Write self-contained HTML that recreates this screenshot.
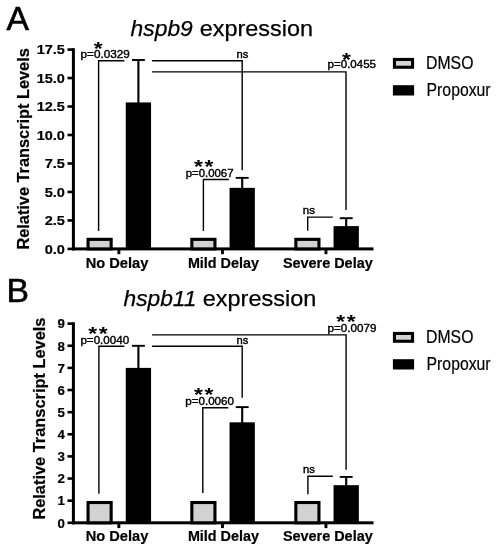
<!DOCTYPE html>
<html><head><meta charset="utf-8"><title>hspb expression</title>
<style>
html,body{margin:0;padding:0;background:#fff;}
svg{display:block;font-family:"Liberation Sans",sans-serif;fill:#000;}
</style></head><body>
<svg width="497" height="550" viewBox="0 0 497 550">
<rect width="497" height="550" fill="#fff"/>
<text x="6.4" y="29.9" font-size="33.7" stroke="#000" stroke-width="0.6">A</text>
<text x="130.6" y="35.7" font-size="22.3" font-style="italic" textLength="62.2" lengthAdjust="spacingAndGlyphs" stroke="#000" stroke-width="0.25">hspb9</text>
<text x="199.8" y="35.7" font-size="22.3" textLength="113.2" lengthAdjust="spacingAndGlyphs" stroke="#000" stroke-width="0.25">expression</text>
<text transform="translate(29.4,249.6) rotate(-90)" font-size="16" font-weight="bold" stroke="#000" stroke-width="0.2" textLength="201.4" lengthAdjust="spacingAndGlyphs">Relative Transcript Levels</text>
<rect x="71.9" y="48.27499999999999" width="3.0" height="202.12500000000003" fill="#000"/>
<rect x="71.9" y="247.4" width="301.6" height="3" fill="#000"/>
<rect x="67.5" y="247.6" width="6" height="2.6" fill="#000"/>
<text x="44.7" y="253.70000000000002" font-size="13.6" font-weight="bold" stroke="#000" stroke-width="0.2" textLength="20.2" lengthAdjust="spacingAndGlyphs">0.0</text>
<rect x="67.5" y="219.125" width="6" height="2.6" fill="#000"/>
<text x="44.7" y="225.22500000000002" font-size="13.6" font-weight="bold" stroke="#000" stroke-width="0.2" textLength="20.2" lengthAdjust="spacingAndGlyphs">2.5</text>
<rect x="67.5" y="190.64999999999998" width="6" height="2.6" fill="#000"/>
<text x="44.7" y="196.75" font-size="13.6" font-weight="bold" stroke="#000" stroke-width="0.2" textLength="20.2" lengthAdjust="spacingAndGlyphs">5.0</text>
<rect x="67.5" y="162.17499999999998" width="6" height="2.6" fill="#000"/>
<text x="44.7" y="168.275" font-size="13.6" font-weight="bold" stroke="#000" stroke-width="0.2" textLength="20.2" lengthAdjust="spacingAndGlyphs">7.5</text>
<rect x="67.5" y="133.7" width="6" height="2.6" fill="#000"/>
<text x="36.7" y="139.8" font-size="13.6" font-weight="bold" stroke="#000" stroke-width="0.2" textLength="28.2" lengthAdjust="spacingAndGlyphs">10.0</text>
<rect x="67.5" y="105.22500000000001" width="6" height="2.6" fill="#000"/>
<text x="36.7" y="111.325" font-size="13.6" font-weight="bold" stroke="#000" stroke-width="0.2" textLength="28.2" lengthAdjust="spacingAndGlyphs">12.5</text>
<rect x="67.5" y="76.74999999999999" width="6" height="2.6" fill="#000"/>
<text x="36.7" y="82.84999999999998" font-size="13.6" font-weight="bold" stroke="#000" stroke-width="0.2" textLength="28.2" lengthAdjust="spacingAndGlyphs">15.0</text>
<rect x="67.5" y="48.27499999999999" width="6" height="2.6" fill="#000"/>
<text x="36.7" y="54.374999999999986" font-size="13.6" font-weight="bold" stroke="#000" stroke-width="0.2" textLength="28.2" lengthAdjust="spacingAndGlyphs">17.5</text>
<rect x="117.39999999999999" y="248.9" width="2.9" height="5.3" fill="#000"/>
<rect x="221.0" y="248.9" width="2.9" height="5.3" fill="#000"/>
<rect x="324.5" y="248.9" width="2.9" height="5.3" fill="#000"/>
<text x="85.7" y="267.6" font-size="14" font-weight="bold" stroke="#000" stroke-width="0.2" textLength="62.60000000000001" lengthAdjust="spacingAndGlyphs">No Delay</text>
<text x="187.89999999999998" y="267.6" font-size="14" font-weight="bold" stroke="#000" stroke-width="0.2" textLength="71.10000000000004" lengthAdjust="spacingAndGlyphs">Mild Delay</text>
<text x="282.9" y="267.6" font-size="14" font-weight="bold" stroke="#000" stroke-width="0.2" textLength="89.80000000000003" lengthAdjust="spacingAndGlyphs">Severe Delay</text>
<rect x="88.05" y="239.36" width="23.099999999999998" height="9.540000000000013" fill="#d2d2d2" stroke="#000" stroke-width="3.1"/>
<rect x="125.75" y="102.4246" width="25.3" height="146.4754" fill="#000"/>
<rect x="137.35" y="59.939899999999994" width="2.1" height="43.484700000000004" fill="#000"/>
<rect x="131.95000000000002" y="59.039899999999996" width="12.9" height="1.9" fill="#000"/>
<rect x="191.85" y="239.36" width="23.099999999999998" height="9.540000000000013" fill="#d2d2d2" stroke="#000" stroke-width="3.1"/>
<rect x="229.55" y="187.8496" width="25.3" height="61.050399999999996" fill="#000"/>
<rect x="241.15" y="177.8264" width="2.1" height="11.023200000000003" fill="#000"/>
<rect x="235.75000000000003" y="176.9264" width="12.9" height="1.9" fill="#000"/>
<rect x="295.84999999999997" y="239.36" width="23.099999999999998" height="9.540000000000013" fill="#d2d2d2" stroke="#000" stroke-width="3.1"/>
<rect x="333.54999999999995" y="226.12" width="25.3" height="22.78" fill="#000"/>
<rect x="345.1499999999999" y="218.147" width="2.1" height="8.973000000000013" fill="#000"/>
<rect x="339.74999999999994" y="217.24699999999999" width="12.9" height="1.9" fill="#000"/>
<text x="93.85" y="55.10" font-size="18.7" font-weight="bold" textLength="8.9" lengthAdjust="spacingAndGlyphs">*</text>
<text x="80.6" y="57.6" font-size="11" text-anchor="start" textLength="49.2" lengthAdjust="spacingAndGlyphs" stroke="#000" stroke-width="0.4">p=0.0329</text>
<path d="M98.6,231 L98.6,60.8 L124.4,60.8" fill="none" stroke="#000" stroke-width="1.4"/>
<path d="M152.1,60.8 L242.2,60.8 L242.2,170.3" fill="none" stroke="#000" stroke-width="1.4"/>
<path d="M152.1,71.9 L346.0,71.9 L346.0,209.9" fill="none" stroke="#000" stroke-width="1.4"/>
<text x="236.5" y="58.2" font-size="11" text-anchor="start" textLength="11.8" lengthAdjust="spacingAndGlyphs" stroke="#000" stroke-width="0.4">ns</text>
<text x="342.05" y="65.50" font-size="18.7" font-weight="bold" textLength="8.9" lengthAdjust="spacingAndGlyphs">*</text>
<text x="327.6" y="68.1" font-size="11" text-anchor="start" textLength="48.4" lengthAdjust="spacingAndGlyphs" stroke="#000" stroke-width="0.4">p=0.0455</text>
<text x="194.00" y="173.30" font-size="18.7" font-weight="bold" textLength="8.9" lengthAdjust="spacingAndGlyphs">*</text><text x="204.50" y="173.30" font-size="18.7" font-weight="bold" textLength="8.9" lengthAdjust="spacingAndGlyphs">*</text>
<text x="185.7" y="177.1" font-size="11" text-anchor="start" textLength="47.8" lengthAdjust="spacingAndGlyphs" stroke="#000" stroke-width="0.4">p=0.0067</text>
<path d="M203.4,231 L203.4,179.5 L228.9,179.5" fill="none" stroke="#000" stroke-width="1.4"/>
<text x="302.8" y="213.6" font-size="11" text-anchor="start" textLength="12.2" lengthAdjust="spacingAndGlyphs" stroke="#000" stroke-width="0.4">ns</text>
<path d="M307.7,230.8 L307.7,217.1 L332.8,217.1" fill="none" stroke="#000" stroke-width="1.4"/>
<rect x="394.45" y="59.449999999999996" width="18.1" height="7.8" fill="#d4d4d4" stroke="#000" stroke-width="3.1"/>
<rect x="392.9" y="85.2" width="21.2" height="10.3" fill="#000"/>
<text x="426.1" y="68.9" font-size="18" textLength="47.3" lengthAdjust="spacingAndGlyphs" stroke="#000" stroke-width="0.2">DMSO</text>
<text x="426.6" y="96.0" font-size="18" textLength="64" lengthAdjust="spacingAndGlyphs" stroke="#000" stroke-width="0.2">Propoxur</text>
<text x="6.4" y="302.3" font-size="33.7" stroke="#000" stroke-width="0.6">B</text>
<text x="123.5" y="305.9" font-size="22.3" font-style="italic" textLength="73" lengthAdjust="spacingAndGlyphs" stroke="#000" stroke-width="0.25">hspb11</text>
<text x="202.7" y="305.9" font-size="22.3" textLength="113.6" lengthAdjust="spacingAndGlyphs" stroke="#000" stroke-width="0.25">expression</text>
<text transform="translate(45.1,519.6) rotate(-90)" font-size="16" font-weight="bold" stroke="#000" stroke-width="0.2" textLength="202" lengthAdjust="spacingAndGlyphs">Relative Transcript Levels</text>
<rect x="71.9" y="322.33" width="3.0" height="201.96999999999997" fill="#000"/>
<rect x="71.9" y="521.3" width="301.6" height="3" fill="#000"/>
<rect x="67.5" y="521.5" width="6" height="2.6" fill="#000"/>
<text x="57.5" y="527.5999999999999" font-size="13.6" font-weight="bold" stroke="#000" stroke-width="0.2" textLength="7.4" lengthAdjust="spacingAndGlyphs">0</text>
<rect x="67.5" y="499.36999999999995" width="6" height="2.6" fill="#000"/>
<text x="57.5" y="505.46999999999997" font-size="13.6" font-weight="bold" stroke="#000" stroke-width="0.2" textLength="7.4" lengthAdjust="spacingAndGlyphs">1</text>
<rect x="67.5" y="477.23999999999995" width="6" height="2.6" fill="#000"/>
<text x="57.5" y="483.34" font-size="13.6" font-weight="bold" stroke="#000" stroke-width="0.2" textLength="7.4" lengthAdjust="spacingAndGlyphs">2</text>
<rect x="67.5" y="455.10999999999996" width="6" height="2.6" fill="#000"/>
<text x="57.5" y="461.21" font-size="13.6" font-weight="bold" stroke="#000" stroke-width="0.2" textLength="7.4" lengthAdjust="spacingAndGlyphs">3</text>
<rect x="67.5" y="432.97999999999996" width="6" height="2.6" fill="#000"/>
<text x="57.5" y="439.08" font-size="13.6" font-weight="bold" stroke="#000" stroke-width="0.2" textLength="7.4" lengthAdjust="spacingAndGlyphs">4</text>
<rect x="67.5" y="410.84999999999997" width="6" height="2.6" fill="#000"/>
<text x="57.5" y="416.95" font-size="13.6" font-weight="bold" stroke="#000" stroke-width="0.2" textLength="7.4" lengthAdjust="spacingAndGlyphs">5</text>
<rect x="67.5" y="388.71999999999997" width="6" height="2.6" fill="#000"/>
<text x="57.5" y="394.82" font-size="13.6" font-weight="bold" stroke="#000" stroke-width="0.2" textLength="7.4" lengthAdjust="spacingAndGlyphs">6</text>
<rect x="67.5" y="366.59" width="6" height="2.6" fill="#000"/>
<text x="57.5" y="372.69" font-size="13.6" font-weight="bold" stroke="#000" stroke-width="0.2" textLength="7.4" lengthAdjust="spacingAndGlyphs">7</text>
<rect x="67.5" y="344.46" width="6" height="2.6" fill="#000"/>
<text x="57.5" y="350.56" font-size="13.6" font-weight="bold" stroke="#000" stroke-width="0.2" textLength="7.4" lengthAdjust="spacingAndGlyphs">8</text>
<rect x="67.5" y="322.33" width="6" height="2.6" fill="#000"/>
<text x="57.5" y="328.43" font-size="13.6" font-weight="bold" stroke="#000" stroke-width="0.2" textLength="7.4" lengthAdjust="spacingAndGlyphs">9</text>
<rect x="117.39999999999999" y="522.8" width="2.9" height="5.3" fill="#000"/>
<rect x="221.0" y="522.8" width="2.9" height="5.3" fill="#000"/>
<rect x="324.5" y="522.8" width="2.9" height="5.3" fill="#000"/>
<text x="85.7" y="541.1999999999999" font-size="14" font-weight="bold" stroke="#000" stroke-width="0.2" textLength="62.60000000000001" lengthAdjust="spacingAndGlyphs">No Delay</text>
<text x="187.89999999999998" y="541.1999999999999" font-size="14" font-weight="bold" stroke="#000" stroke-width="0.2" textLength="71.10000000000004" lengthAdjust="spacingAndGlyphs">Mild Delay</text>
<text x="282.9" y="541.1999999999999" font-size="14" font-weight="bold" stroke="#000" stroke-width="0.2" textLength="89.80000000000003" lengthAdjust="spacingAndGlyphs">Severe Delay</text>
<rect x="88.05" y="502.52" width="23.099999999999998" height="20.279999999999994" fill="#d2d2d2" stroke="#000" stroke-width="3.1"/>
<rect x="125.75" y="367.89" width="25.3" height="154.90999999999997" fill="#000"/>
<rect x="137.35" y="345.76" width="2.1" height="23.129999999999995" fill="#000"/>
<rect x="131.95000000000002" y="344.86" width="12.9" height="1.9" fill="#000"/>
<rect x="191.85" y="502.52" width="23.099999999999998" height="20.279999999999994" fill="#d2d2d2" stroke="#000" stroke-width="3.1"/>
<rect x="229.55" y="422.3298" width="25.3" height="100.47019999999998" fill="#000"/>
<rect x="241.15" y="407.0600999999999" width="2.1" height="16.269700000000057" fill="#000"/>
<rect x="235.75000000000003" y="406.16009999999994" width="12.9" height="1.9" fill="#000"/>
<rect x="295.84999999999997" y="502.52" width="23.099999999999998" height="20.279999999999994" fill="#d2d2d2" stroke="#000" stroke-width="3.1"/>
<rect x="333.54999999999995" y="485.179" width="25.3" height="37.62099999999998" fill="#000"/>
<rect x="345.1499999999999" y="476.88024999999993" width="2.1" height="9.298750000000041" fill="#000"/>
<rect x="339.74999999999994" y="475.98024999999996" width="12.9" height="1.9" fill="#000"/>
<text x="88.20" y="340.10" font-size="18.7" font-weight="bold" textLength="8.9" lengthAdjust="spacingAndGlyphs">*</text><text x="98.70" y="340.10" font-size="18.7" font-weight="bold" textLength="8.9" lengthAdjust="spacingAndGlyphs">*</text>
<text x="80.4" y="343.8" font-size="11" text-anchor="start" textLength="48.8" lengthAdjust="spacingAndGlyphs" stroke="#000" stroke-width="0.4">p=0.0040</text>
<path d="M98.9,493.7 L98.9,346.3 L124.4,346.3" fill="none" stroke="#000" stroke-width="1.4"/>
<path d="M152.1,334.9 L346.1,334.9 L346.1,469.8" fill="none" stroke="#000" stroke-width="1.4"/>
<path d="M152.1,346.3 L242.2,346.3 L242.2,397.8" fill="none" stroke="#000" stroke-width="1.4"/>
<text x="236.5" y="343.6" font-size="11" text-anchor="start" textLength="11.8" lengthAdjust="spacingAndGlyphs" stroke="#000" stroke-width="0.4">ns</text>
<text x="336.30" y="328.00" font-size="18.7" font-weight="bold" textLength="8.9" lengthAdjust="spacingAndGlyphs">*</text><text x="346.80" y="328.00" font-size="18.7" font-weight="bold" textLength="8.9" lengthAdjust="spacingAndGlyphs">*</text>
<text x="327.6" y="331.9" font-size="11" text-anchor="start" textLength="48.8" lengthAdjust="spacingAndGlyphs" stroke="#000" stroke-width="0.4">p=0.0079</text>
<text x="194.00" y="401.20" font-size="18.7" font-weight="bold" textLength="8.9" lengthAdjust="spacingAndGlyphs">*</text><text x="204.50" y="401.20" font-size="18.7" font-weight="bold" textLength="8.9" lengthAdjust="spacingAndGlyphs">*</text>
<text x="185.2" y="405.2" font-size="11" text-anchor="start" textLength="48.8" lengthAdjust="spacingAndGlyphs" stroke="#000" stroke-width="0.4">p=0.0060</text>
<path d="M202.8,493 L202.8,407.8 L228.3,407.8" fill="none" stroke="#000" stroke-width="1.4"/>
<text x="302.9" y="473.2" font-size="11" text-anchor="start" textLength="11.9" lengthAdjust="spacingAndGlyphs" stroke="#000" stroke-width="0.4">ns</text>
<path d="M307.9,494.2 L307.9,476.2 L332.8,476.2" fill="none" stroke="#000" stroke-width="1.4"/>
<rect x="394.45" y="333.45" width="18.1" height="7.8" fill="#d4d4d4" stroke="#000" stroke-width="3.1"/>
<rect x="392.9" y="359.2" width="21.2" height="10.3" fill="#000"/>
<text x="426.1" y="342.9" font-size="18" textLength="47.3" lengthAdjust="spacingAndGlyphs" stroke="#000" stroke-width="0.2">DMSO</text>
<text x="426.6" y="370.0" font-size="18" textLength="64" lengthAdjust="spacingAndGlyphs" stroke="#000" stroke-width="0.2">Propoxur</text>
</svg>
</body></html>
